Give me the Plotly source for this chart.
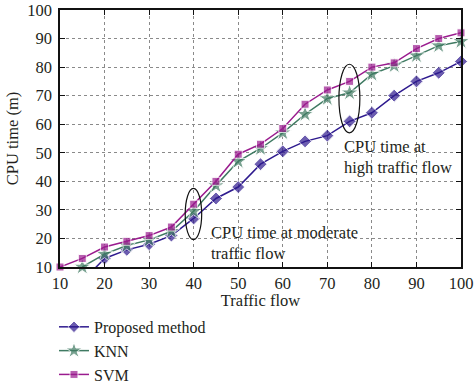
import plotly.graph_objects as go

traffic = [10, 15, 20, 25, 30, 35, 40, 45, 50, 55, 60, 65, 70, 75, 80, 85, 90, 95, 100]
proposed = [None, 5, 13, 16, 18, 21, 27, 34, 38, 46, 50.5, 54, 56, 61, 64, 70, 75, 78, 82]
knn = [None, 10, 14.5, 17.5, 19.5, 22.5, 29.5, 38.5, 47, 51.5, 57, 63.5, 69, 71, 77.5, 80.5, 84, 87.5, 89]
svm = [10, 13, 17, 19, 21, 24, 32, 40, 49.5, 53, 58.5, 67, 72, 75, 80, 81.5, 86.5, 90, 92]
x_ticks = [10, 20, 30, 40, 50, 60, 70, 80, 90, 100]
y_ticks = [10, 20, 30, 40, 50, 60, 70, 80, 90, 100]

FONT = "Liberation Serif"
TXT = "#231f20"
Y_MIN = 10

def sizes(vals, s):
    return [s if (v is not None and v >= Y_MIN) else 0 for v in vals]

fig = go.Figure()
fig.add_trace(go.Scatter(x=traffic, y=proposed, name="Proposed method", mode="lines+markers",
                         line=dict(color="#2e1a8e", width=1.5),
                         marker=dict(symbol="diamond", size=sizes(proposed, 10), color="#2e1a8e"),
                         cliponaxis=False))
fig.add_trace(go.Scatter(x=traffic, y=knn, name="KNN", mode="lines+markers",
                         line=dict(color="#3f7a62", width=1.5),
                         marker=dict(symbol="star", size=sizes(knn, 13), color="#3f7a62"),
                         cliponaxis=False))
fig.add_trace(go.Scatter(x=traffic, y=svm, name="SVM", mode="lines+markers",
                         line=dict(color="#9a1b8e", width=1.5),
                         marker=dict(symbol="square", size=sizes(svm, 8), color="#9a1b8e"),
                         cliponaxis=False))

# ellipses highlighting regions
fig.add_shape(type="circle", xref="x", yref="y", x0=38.1, x1=41.8, y0=19.6, y1=37.5,
              line=dict(color="#111", width=1.2))
fig.add_shape(type="circle", xref="x", yref="y", x0=72.6, x1=77.3, y0=57, y1=81,
              line=dict(color="#111", width=1.2))

fig.add_annotation(x=43.5, y=18.4, xref="x", yref="y", text="CPU time at moderate<br>traffic flow",
                   showarrow=False, xanchor="left", yanchor="middle", align="left",
                   font=dict(family=FONT, size=16.5, color=TXT))
fig.add_annotation(x=73.3, y=48.4, xref="x", yref="y", text="CPU time at<br>high traffic flow",
                   showarrow=False, xanchor="left", yanchor="middle", align="left",
                   font=dict(family=FONT, size=16.5, color=TXT))

axis_common = dict(showline=True, linecolor="#111", linewidth=1.5, mirror="ticks",
                   ticks="inside", ticklen=5, tickcolor="#111", tickwidth=1,
                   showgrid=True, gridcolor="#8a8a8a", griddash="dot", gridwidth=1,
                   zeroline=False, automargin=False,
                   tickfont=dict(family=FONT, size=16.5, color=TXT))

fig.update_xaxes(range=[10, 100], tickvals=x_ticks,
                 title=dict(text="Traffic flow", font=dict(family=FONT, size=16.5, color=TXT), standoff=11),
                 **axis_common)
fig.update_yaxes(range=[10, 100], tickvals=y_ticks, ticklabelstandoff=3,
                 title=dict(text="CPU time (m)", font=dict(family=FONT, size=16.5, color=TXT), standoff=4),
                 **axis_common)

fig.update_layout(width=474, height=385, margin=dict(l=60, r=13, t=10, b=118),
                  plot_bgcolor="white", paper_bgcolor="white",
                  font=dict(family=FONT, size=16.5, color=TXT),
                  legend=dict(x=-0.015, xref="paper", y=0.195, yref="container",
                              xanchor="left", yanchor="top",
                              bgcolor="rgba(0,0,0,0)", font=dict(family=FONT, size=16, color=TXT),
                              tracegroupgap=0, itemwidth=30))

# remove the default page margin so the figure sits at the window's top-left corner
fig.write_html("out.html", config={"displayModeBar": False},
               post_script="document.body.style.margin='0px';")
